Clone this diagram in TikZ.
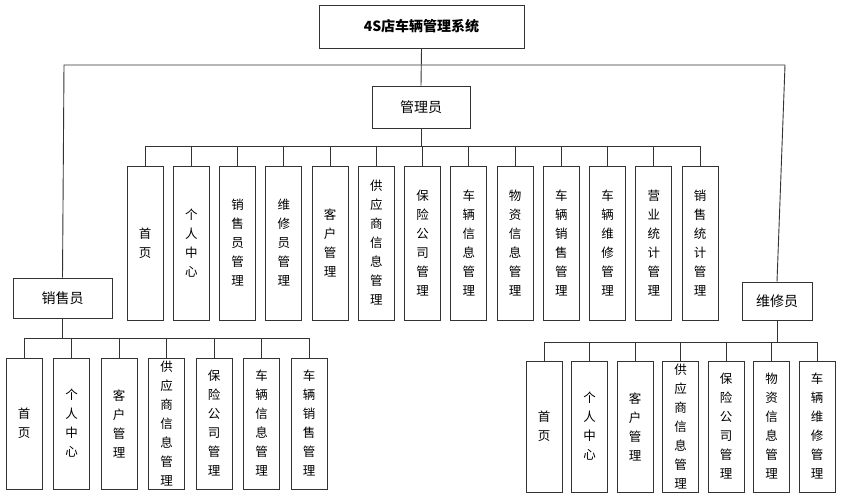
\documentclass[tikz,border=0pt]{standalone}
\usepackage{fontspec}
\setmainfont{Noto Sans CJK SC}
\begin{document}
\begin{tikzpicture}[x=1pt,y=-1pt,
  box/.style={draw=black!80,fill=white,line width=0.9pt,inner sep=0pt,font=\fontsize{14}{16}\selectfont},
  vbox/.style={draw=black!80,fill=white,line width=0.9pt,minimum width=36pt,inner sep=0pt,align=center,font=\fontsize{12.5}{19}\selectfont},
  wire/.style={line width=0.9pt,draw=black!80}]
\useasboundingbox (0,0) rectangle (853,501);
\node[box,minimum width=205pt,minimum height=43pt,font=\fontsize{14}{16}\selectfont\bfseries] (root) at (421.5,26.5) {4S店车辆管理系统};
\node[box,minimum width=98pt,minimum height=42pt] (admin) at (421,107) {管理员};
\node[box,minimum width=99pt,minimum height=40pt] (sales) at (62.5,298) {销售员};
\node[box,minimum width=70pt,minimum height=38pt] (rep) at (777,301) {维修员};
\coordinate (bl) at (64,65); \coordinate (br) at (785,65);
\draw[wire] (root.south) -- (admin.north);
\draw[wire] (sales.north) -- (bl) -- (br) -- (rep.north);
\foreach \t [count=\i] in {首\\页,个\\人\\中\\心,销\\售\\员\\管\\理,维\\修\\员\\管\\理,客\\户\\管\\理,供\\应\\商\\信\\息\\管\\理,保\\险\\公\\司\\管\\理,车\\辆\\信\\息\\管\\理,物\\资\\信\\息\\管\\理,车\\辆\\销\\售\\管\\理,车\\辆\\维\\修\\管\\理,营\\业\\统\\计\\管\\理,销\\售\\统\\计\\管\\理}{
  \node[vbox,minimum height=154pt] (a\i) at ({145+46.25*(\i-1)},243) {\t};
  \coordinate (ab\i) at ({145+46.25*(\i-1)},146);
  \draw[wire] (ab\i) -- (a\i.north);
}
\draw[wire] (ab1) -- (ab13);
\draw[wire] (admin.south) -- (421,146);
\foreach \t [count=\i] in {首\\页,个\\人\\中\\心,客\\户\\管\\理,供\\应\\商\\信\\息\\管\\理,保\\险\\公\\司\\管\\理,车\\辆\\信\\息\\管\\理,车\\辆\\销\\售\\管\\理}{
  \node[vbox,minimum height=131pt] (s\i) at ({24+47.5*(\i-1)},423.5) {\t};
  \coordinate (sb\i) at ({24+47.5*(\i-1)},338);
  \draw[wire] (sb\i) -- (s\i.north);
}
\draw[wire] (sb1) -- (sb7);
\draw[wire] (sales.south) -- (62.5,338);
\foreach \t [count=\i] in {首\\页,个\\人\\中\\心,客\\户\\管\\理,供\\应\\商\\信\\息\\管\\理,保\\险\\公\\司\\管\\理,物\\资\\信\\息\\管\\理,车\\辆\\维\\修\\管\\理}{
  \node[vbox,minimum height=131pt] (r\i) at ({544+45.5*(\i-1)},426.5) {\t};
  \coordinate (rb\i) at ({544+45.5*(\i-1)},342);
  \draw[wire] (rb\i) -- (r\i.north);
}
\draw[wire] (rb1) -- (rb7);
\draw[wire] (rep.south) -- (777,342);
\end{tikzpicture}
\end{document}
